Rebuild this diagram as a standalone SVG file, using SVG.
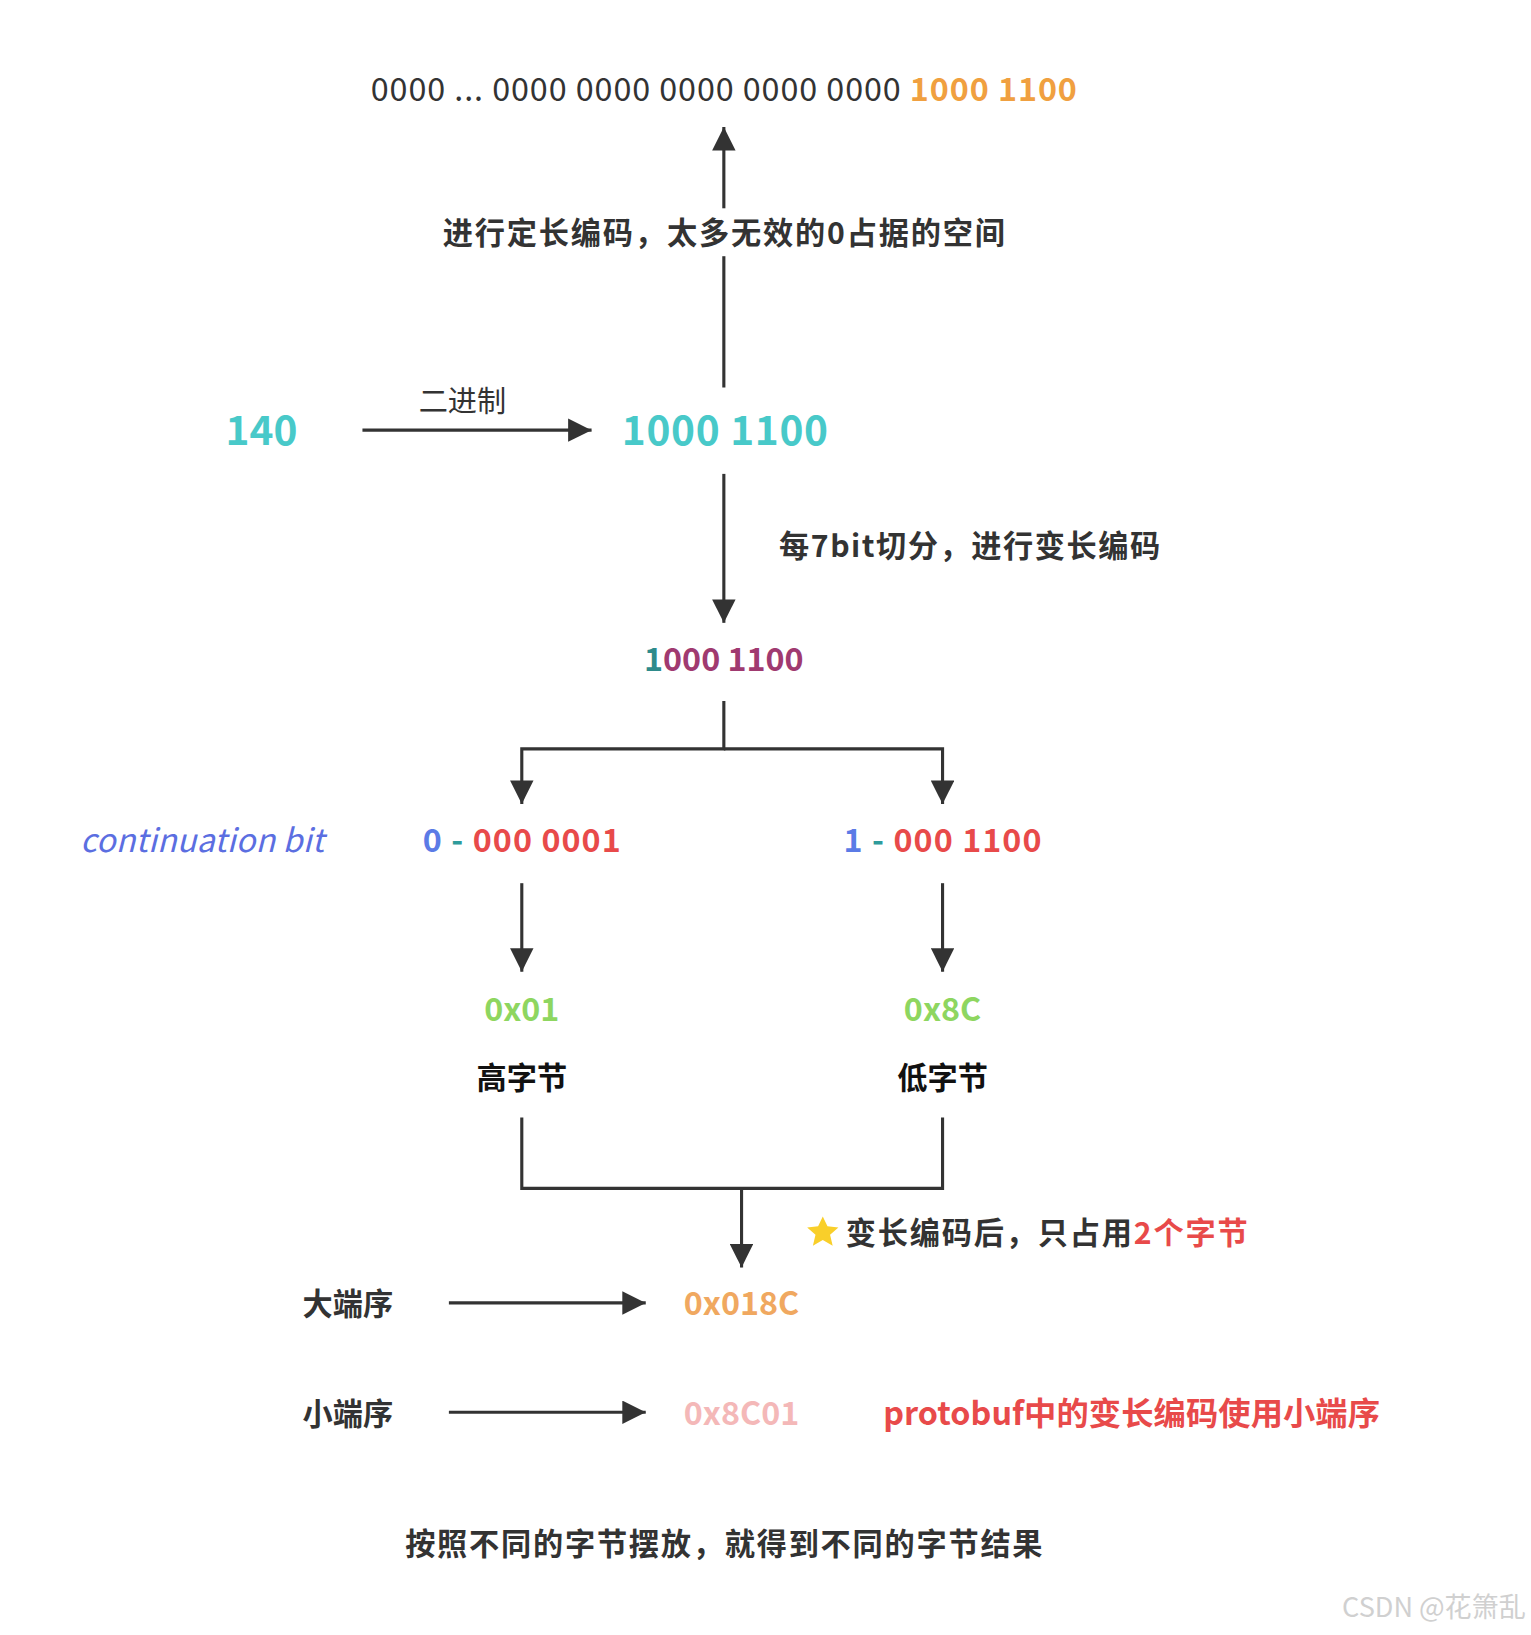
<svg xmlns="http://www.w3.org/2000/svg" width="1531" height="1635" viewBox="0 0 1531 1635">
<style>
text{font-family:"Noto Sans CJK SC","Noto Sans",sans-serif}
.b{font-weight:bold}
.c{text-anchor:middle}
.ln{stroke:#333;stroke-width:3;fill:none}
</style>
<defs>
<marker id="ah" viewBox="0 0 10 10" refX="10" refY="5" markerWidth="10" markerHeight="7.5" orient="auto"><path d="M0,0 L10,5 L0,10 z" fill="#333"/></marker>
</defs>
<rect width="1531" height="1635" fill="#fff"/>
<g transform="scale(1.0415)" fill="#333">
<g id="connectors">
<line class="ln" x1="695" y1="372" x2="695" y2="122" marker-end="url(#ah)"/>
<line class="ln" x1="348" y1="413" x2="568" y2="413" marker-end="url(#ah)"/>
<line class="ln" x1="695" y1="455" x2="695" y2="598" marker-end="url(#ah)"/>
<polyline class="ln" points="695,673 695,719 501,719 501,772" marker-end="url(#ah)"/>
<polyline class="ln" points="695,719 905,719 905,772" marker-end="url(#ah)"/>
<line class="ln" x1="501" y1="848" x2="501" y2="933" marker-end="url(#ah)"/>
<line class="ln" x1="905" y1="848" x2="905" y2="933" marker-end="url(#ah)"/>
<polyline class="ln" points="501,1073 501,1141 905,1141 905,1073"/>
<line class="ln" x1="712" y1="1141" x2="712" y2="1217" marker-end="url(#ah)"/>
<line class="ln" x1="431" y1="1251" x2="620" y2="1251" marker-end="url(#ah)"/>
<line class="ln" x1="431" y1="1356" x2="620" y2="1356" marker-end="url(#ah)"/>
</g>
<g id="top"><text x="695" y="97" class="c" font-size="31" textLength="678">0000 ... 0000 0000 0000 0000 0000 <tspan class="b" fill="#F0A040">1000 1100</tspan></text></g>
<g id="lbl1"><rect x="420" y="200" width="550" height="46" fill="#fff"/><text x="695" y="234" class="c b" font-size="29" textLength="540">进行定长编码，太多无效的0占据的空间</text></g>
<g id="n140"><text x="251" y="427" class="c b" font-size="39" fill="#48C9C9">140</text></g>
<g id="lbl2"><text x="444" y="396" class="c" font-size="28">二进制</text></g>
<g id="bin"><text x="696" y="427" class="c b" font-size="39" fill="#48C9C9" textLength="198">1000 1100</text></g>
<g id="lbl3"><text x="748" y="535" class="b" font-size="29" textLength="366">每7bit切分，进行变长编码</text></g>
<g id="bin2"><text x="695" y="644" class="c b" font-size="31" fill="#A03A70"><tspan fill="#2E8B8B">1</tspan>000 1100</text></g>
<g id="cb"><text x="77" y="818" font-size="31" font-style="italic" fill="#5B6EE1" textLength="234">continuation bit</text></g>
<g id="left"><text x="501" y="818" class="c b" font-size="31" fill="#E84A4A" textLength="190"><tspan fill="#5B7BE6">0</tspan><tspan fill="#2E9B9B"> - </tspan>000 0001</text></g>
<g id="right"><text x="905" y="818" class="c b" font-size="31" fill="#E84A4A" textLength="190"><tspan fill="#5B7BE6">1</tspan><tspan fill="#2E9B9B"> - </tspan>000 1100</text></g>
<g id="h01"><text x="501" y="980" class="c b" font-size="31" fill="#8ED660">0x01</text></g>
<g id="h8c"><text x="905" y="980" class="c b" font-size="31" fill="#8ED660">0x8C</text></g>
<g id="hi"><text x="501" y="1046" class="c b" font-size="29" fill="#111">高字节</text></g>
<g id="lo"><text x="905" y="1046" class="c b" font-size="29" fill="#111">低字节</text></g>
<g id="note"><polygon points="790,1168 794.5,1177.5 805,1178.5 797,1185.5 799.5,1196 790,1190.5 780.5,1196 783,1185.5 775,1178.5 785.5,1177.5" fill="#F9CF2A"/><text x="812" y="1194" class="b" font-size="29" textLength="386">变长编码后，只占用<tspan fill="#E84A4A">2个字节</tspan></text></g>
<g id="big"><text x="334" y="1263" class="c b" font-size="29">大端序</text></g>
<g id="v1"><text x="712" y="1263" class="c b" font-size="31" fill="#F0A860">0x018C</text></g>
<g id="small"><text x="334" y="1368" class="c b" font-size="29">小端序</text></g>
<g id="v2"><text x="712" y="1368" class="c b" font-size="31" fill="#F4B8B8">0x8C01</text></g>
<g id="pb"><text x="848" y="1368" class="b" font-size="31" fill="#E84A4A" textLength="477">protobuf中的变长编码使用小端序</text></g>
<g id="bottom"><text x="695" y="1493" class="c b" font-size="29" textLength="612">按照不同的字节摆放，就得到不同的字节结果</text></g>
<g id="wm"><text x="1465" y="1553" text-anchor="end" font-size="26" fill="#D0D0D0">CSDN @花箫乱</text></g>
</g>
</svg>
